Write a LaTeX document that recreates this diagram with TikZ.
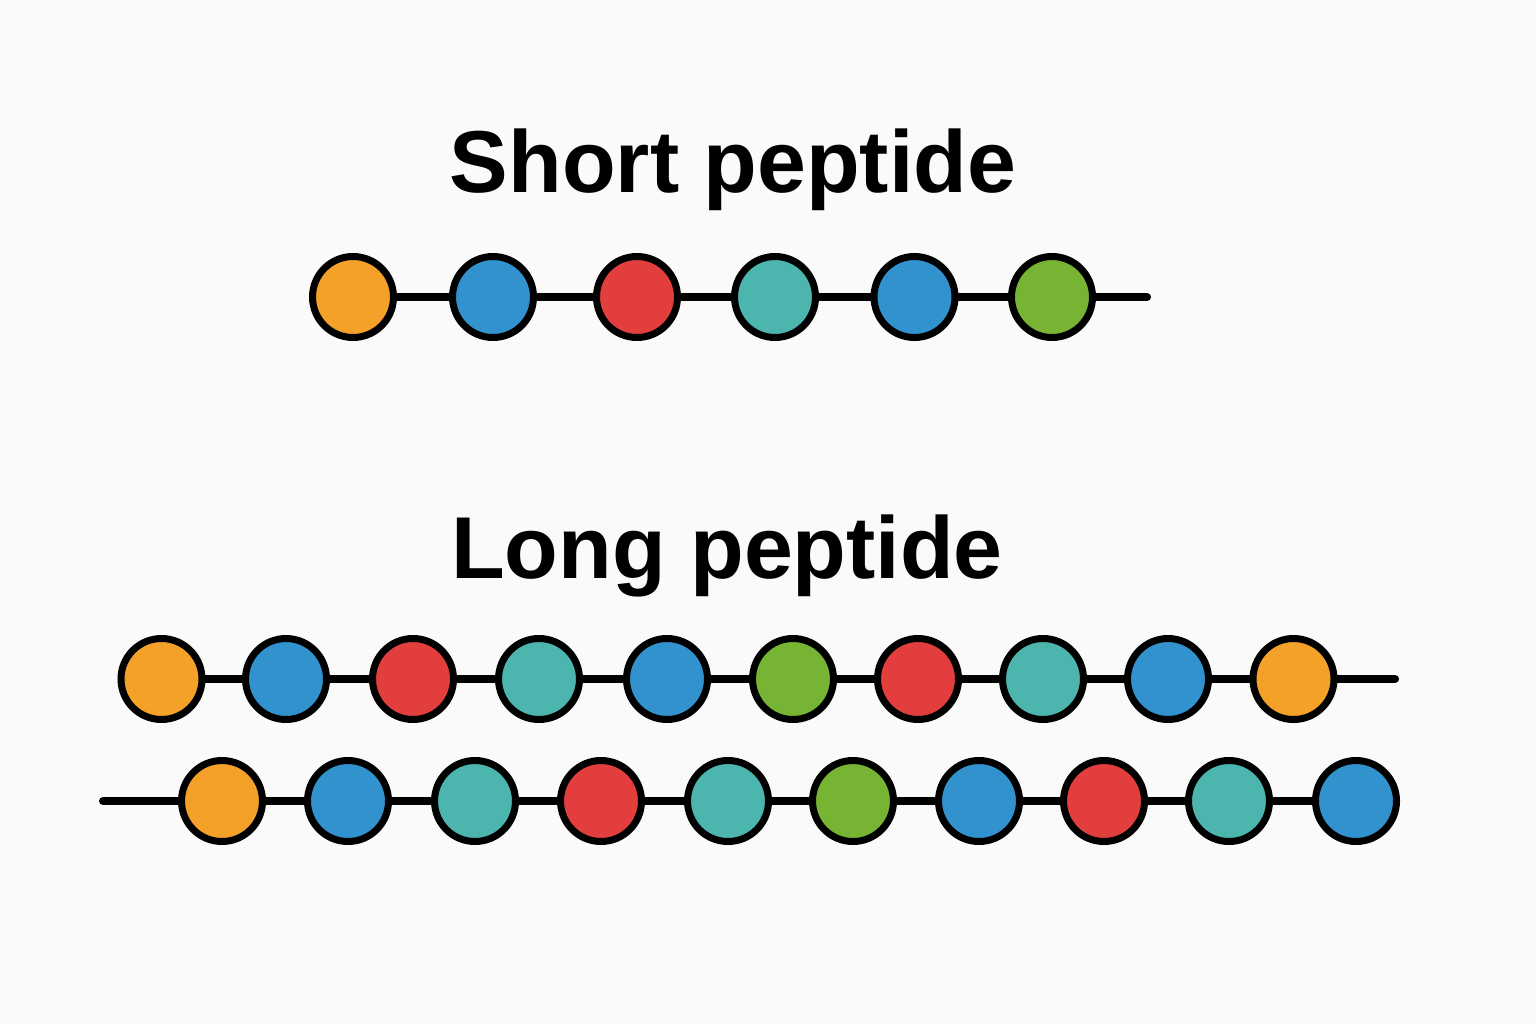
\documentclass[tikz,border=0pt]{standalone}
\usepackage{fontspec}
\setmainfont{Liberation Sans}
\usepackage{xcolor}
\definecolor{aaorange}{HTML}{F4A12A}
\definecolor{aablue}{HTML}{3192CE}
\definecolor{aared}{HTML}{E23E3E}
\definecolor{aateal}{HTML}{4BB5AE}
\definecolor{aagreen}{HTML}{78B433}
\definecolor{bgpaper}{HTML}{FAFAFA}
\tikzset{
	residue/.style={
		circle,
		draw=black,
		line width=0.07cm,
		minimum size=0.81cm,
		inner sep=0pt
	},
	bond/.style={
		line width=0.08cm,
		line cap=round
	},
	heading/.style={
		anchor=base,
		inner sep=0pt,
		font=\fontsize{25}{30}\selectfont\bfseries
	}
}

\begin{document}
\begin{tikzpicture}
	\fill[bgpaper] (0,0) rectangle (15.36,10.24);
	\useasboundingbox (0,0) rectangle (15.36,10.24);
	
	\node[heading] (shorttitle) at (7.33,8.31) {Short peptide};
	\node[heading] (longtitle) at (7.27,4.46) {Long peptide};
	
	% short chain
	\node[residue, fill=aaorange] (s1) at (3.53,7.27) {};
	\node[residue, fill=aablue] (s2) at (4.93,7.27) {};
	\node[residue, fill=aared] (s3) at (6.37,7.27) {};
	\node[residue, fill=aateal] (s4) at (7.75,7.27) {};
	\node[residue, fill=aablue] (s5) at (9.145,7.27) {};
	\node[residue, fill=aagreen] (s6) at (10.52,7.27) {};
	\coordinate (send) at (11.47,7.27);
	\draw[bond] (s1) -- (s2);
	\draw[bond] (s2) -- (s3);
	\draw[bond] (s3) -- (s4);
	\draw[bond] (s4) -- (s5);
	\draw[bond] (s5) -- (s6);
	\draw[bond] (s6) -- (send);
	
	% long chain, first row
	\node[residue, fill=aaorange] (a1) at (1.615,3.45) {};
	\node[residue, fill=aablue] (a2) at (2.86,3.45) {};
	\node[residue, fill=aared] (a3) at (4.13,3.45) {};
	\node[residue, fill=aateal] (a4) at (5.39,3.45) {};
	\node[residue, fill=aablue] (a5) at (6.67,3.45) {};
	\node[residue, fill=aagreen] (a6) at (7.93,3.45) {};
	\node[residue, fill=aared] (a7) at (9.18,3.45) {};
	\node[residue, fill=aateal] (a8) at (10.43,3.45) {};
	\node[residue, fill=aablue] (a9) at (11.68,3.45) {};
	\node[residue, fill=aaorange] (a10) at (12.935,3.45) {};
	\coordinate (aend) at (13.95,3.45);
	\draw[bond] (a1) -- (a2);
	\draw[bond] (a2) -- (a3);
	\draw[bond] (a3) -- (a4);
	\draw[bond] (a4) -- (a5);
	\draw[bond] (a5) -- (a6);
	\draw[bond] (a6) -- (a7);
	\draw[bond] (a7) -- (a8);
	\draw[bond] (a8) -- (a9);
	\draw[bond] (a9) -- (a10);
	\draw[bond] (a10) -- (aend);
	
	% long chain, second row
	\coordinate (bstart) at (1.03,2.23);
	\node[residue, fill=aaorange] (b1) at (2.22,2.23) {};
	\node[residue, fill=aablue] (b2) at (3.48,2.23) {};
	\node[residue, fill=aateal] (b3) at (4.75,2.23) {};
	\node[residue, fill=aared] (b4) at (6.01,2.23) {};
	\node[residue, fill=aateal] (b5) at (7.28,2.23) {};
	\node[residue, fill=aagreen] (b6) at (8.53,2.23) {};
	\node[residue, fill=aablue] (b7) at (9.79,2.23) {};
	\node[residue, fill=aared] (b8) at (11.04,2.23) {};
	\node[residue, fill=aateal] (b9) at (12.29,2.23) {};
	\node[residue, fill=aablue] (b10) at (13.56,2.23) {};
	\draw[bond] (bstart) -- (b1);
	\draw[bond] (b1) -- (b2);
	\draw[bond] (b2) -- (b3);
	\draw[bond] (b3) -- (b4);
	\draw[bond] (b4) -- (b5);
	\draw[bond] (b5) -- (b6);
	\draw[bond] (b6) -- (b7);
	\draw[bond] (b7) -- (b8);
	\draw[bond] (b8) -- (b9);
	\draw[bond] (b9) -- (b10);
	
\end{tikzpicture}
\end{document}
